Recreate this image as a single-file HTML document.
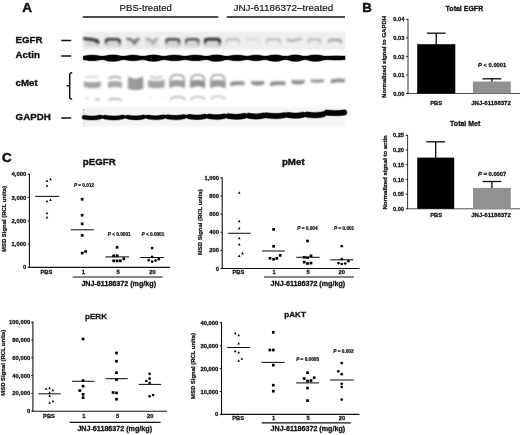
<!DOCTYPE html>
<html lang="en">
<head>
<meta charset="utf-8">
<title>Figure</title>
<style>
html,body{margin:0;padding:0;background:#fff;}
body{width:520px;height:435px;overflow:hidden;}
svg{display:block;}
svg text{font-family:"Liberation Sans",Arial,Helvetica,sans-serif;fill:#111;}
</style>
</head>
<body>
<svg width="520" height="435" viewBox="0 0 520 435">
<defs>
<filter id="b2" x="-5%" y="-30%" width="110%" height="160%"><feGaussianBlur stdDeviation="1.0"/></filter>
<filter id="b4" x="-5%" y="-30%" width="110%" height="160%"><feGaussianBlur stdDeviation="1.55"/></filter>
<filter id="b5" x="-5%" y="-30%" width="110%" height="160%"><feGaussianBlur stdDeviation="1.0"/></filter>
<filter id="b3" x="-5%" y="-30%" width="110%" height="160%"><feGaussianBlur stdDeviation="1.0"/></filter>
</defs>
<rect width="520" height="435" fill="#fff"/>
<text x="22.3" y="12.3" font-size="13.6" font-weight="bold" text-anchor="start" stroke="#111" stroke-width="0.488">A</text>
<text x="119.6" y="11.3" font-size="9.6" font-weight="normal" text-anchor="start" stroke="#111" stroke-width="0.15">PBS-treated</text>
<text x="233.5" y="11.3" font-size="9.9" font-weight="normal" text-anchor="start" stroke="#111" stroke-width="0.15">JNJ-61186372–treated</text>
<line x1="82.7" y1="17.0" x2="218.3" y2="17.0" stroke="#111" stroke-width="1.4"/>
<line x1="226.7" y1="17.0" x2="345" y2="17.0" stroke="#111" stroke-width="1.4"/>
<text x="15.6" y="43.0" font-size="9.7" font-weight="bold" text-anchor="start" stroke="#111" stroke-width="0.371">EGFR</text>
<text x="15.6" y="57.9" font-size="9.7" font-weight="bold" text-anchor="start" stroke="#111" stroke-width="0.371">Actin</text>
<text x="15.6" y="85.5" font-size="9.7" font-weight="bold" text-anchor="start" stroke="#111" stroke-width="0.371">cMet</text>
<text x="15.6" y="119.5" font-size="9.75" font-weight="bold" text-anchor="start" stroke="#111" stroke-width="0.372">GAPDH</text>
<line x1="61.2" y1="40.5" x2="71.2" y2="40.5" stroke="#111" stroke-width="1.5"/>
<line x1="61.2" y1="56.0" x2="71.2" y2="56.0" stroke="#111" stroke-width="1.5"/>
<line x1="61.2" y1="118.0" x2="71.2" y2="118.0" stroke="#111" stroke-width="1.5"/>
<path d="M72.2 72.9 Q69.7 72.6 69.7 74.8 V97.2 Q69.7 99.3 72.2 99.0 M69.7 85.7 H66.7" fill="none" stroke="#111" stroke-width="1.5"/>
<g filter="url(#b3)">
<rect x="82.8" y="31.4" width="262.4" height="18.4" fill="#eeeeee"/>
</g>
<g filter="url(#b4)">
<rect x="83.6" y="39.5" width="15.400000000000006" height="7.5" fill="#000" fill-opacity="0.1"/>
<rect x="105.0" y="39.5" width="15.599999999999994" height="7.5" fill="#000" fill-opacity="0.1"/>
<rect x="126.3" y="39.5" width="13.299999999999997" height="7.5" fill="#000" fill-opacity="0.06"/>
<rect x="145.4" y="39.5" width="12.799999999999983" height="7.5" fill="#000" fill-opacity="0.06"/>
<rect x="165.4" y="39.5" width="14.799999999999983" height="7.5" fill="#000" fill-opacity="0.1"/>
<rect x="185.0" y="39.5" width="14.400000000000006" height="7.5" fill="#000" fill-opacity="0.1"/>
<rect x="204.2" y="39.5" width="16.400000000000006" height="7.5" fill="#000" fill-opacity="0.1"/>
</g>
<g filter="url(#b5)" fill="none" stroke-linecap="round" stroke-linejoin="round">
<path d="M84.39999999999999 38.6 Q91.3 39.2 96.5 40.4 L98.0 42.4" stroke="#262626" stroke-width="2.9"/>
<path d="M106.0 43.8 L106.0 41.0 M119.6 41.0 L119.6 44.6" stroke="#303030" stroke-width="1.8199999999999998" stroke-opacity="0.6"/>
<path d="M106.0 40.8 Q106.2 39.2 109.0 39.2 H116.6 Q119.39999999999999 39.2 119.6 41.2" stroke="#303030" stroke-width="2.6"/>
<path d="M127.3 38.8 L131.95 40.0 L134.45 43.6 L136.45 39.8 L138.6 39.0" stroke="#747474" stroke-width="2.6"/>
<path d="M146.4 38.8 L150.8 40.0 L153.3 43.6 L155.3 39.8 L157.2 39.0" stroke="#a8a8a8" stroke-width="2.6"/>
<path d="M166.4 43.8 L166.4 41.0 M179.2 41.0 L179.2 44.6" stroke="#444" stroke-width="1.75" stroke-opacity="0.6"/>
<path d="M166.4 40.8 Q166.6 39.2 169.4 39.2 H176.2 Q179.0 39.2 179.2 41.2" stroke="#444" stroke-width="2.5"/>
<path d="M186.0 43.8 L186.0 41.0 M198.4 41.0 L198.4 44.6" stroke="#545454" stroke-width="1.75" stroke-opacity="0.6"/>
<path d="M186.0 40.8 Q186.2 39.2 189.0 39.2 H195.4 Q198.20000000000002 39.2 198.4 41.2" stroke="#545454" stroke-width="2.5"/>
<path d="M205.2 43.8 L205.2 41.0 M219.6 41.0 L219.6 44.6" stroke="#262626" stroke-width="1.9599999999999997" stroke-opacity="0.6"/>
<path d="M205.2 40.8 Q205.39999999999998 39.2 208.2 39.2 H216.6 Q219.4 39.2 219.6 41.2" stroke="#262626" stroke-width="2.8"/>
<path d="M226.4 43.8 L226.4 41.0 M238.8 41.0 L238.8 44.6" stroke="#c2c2c2" stroke-width="1.68" stroke-opacity="0.6"/>
<path d="M226.4 40.8 Q226.6 39.2 229.4 39.2 H235.8 Q238.60000000000002 39.2 238.8 41.2" stroke="#c2c2c2" stroke-width="2.4"/>
<path d="M246.6 43.8 L246.6 41.0 M259.0 41.0 L259.0 44.6" stroke="#dcdcdc" stroke-width="1.68" stroke-opacity="0.6"/>
<path d="M246.6 40.8 Q246.79999999999998 39.2 249.6 39.2 H256.0 Q258.8 39.2 259.0 41.2" stroke="#dcdcdc" stroke-width="2.4"/>
<path d="M267.0 43.8 L267.0 41.0 M280.0 41.0 L280.0 44.6" stroke="#bebebe" stroke-width="1.68" stroke-opacity="0.6"/>
<path d="M267.0 40.8 Q267.2 39.2 270.0 39.2 H277.0 Q279.8 39.2 280.0 41.2" stroke="#bebebe" stroke-width="2.4"/>
<path d="M287.5 39.6 L292.75 41.2 L296.25 39.6 L301.0 39.0" stroke="#b0b0b0" stroke-width="2.4"/>
<path d="M308.7 43.8 L308.7 41.0 M320.0 41.0 L320.0 44.6" stroke="#bcbcbc" stroke-width="1.68" stroke-opacity="0.6"/>
<path d="M308.7 40.8 Q308.9 39.2 311.7 39.2 H317.0 Q319.8 39.2 320.0 41.2" stroke="#bcbcbc" stroke-width="2.4"/>
<path d="M329.0 41.6 Q328.8 40.0 331.5 40.0 H338.5 Q341.2 40.0 341.0 42.2" stroke="#a0a0a0" stroke-width="2.4"/>
</g>
<g fill="#050505" stroke="#000" stroke-opacity="0.32" stroke-width="1.3">
<rect x="83.4" y="56.0" width="261.6" height="3.8"/>
<ellipse cx="92.2" cy="57.9" rx="8.999999999999996" ry="2.9"/>
<ellipse cx="112.75" cy="58.1" rx="9.95" ry="3.3"/>
<ellipse cx="133.0" cy="57.9" rx="8.2" ry="2.9"/>
<ellipse cx="153.5" cy="58.1" rx="9.7" ry="3.3"/>
<ellipse cx="174.5" cy="57.9" rx="9.7" ry="2.9"/>
<ellipse cx="195.5" cy="57.9" rx="9.7" ry="2.9"/>
<ellipse cx="216.5" cy="58.1" rx="9.7" ry="3.3"/>
<ellipse cx="237.0" cy="57.9" rx="9.2" ry="2.9"/>
<ellipse cx="256.0" cy="57.9" rx="8.2" ry="2.9"/>
<ellipse cx="275.0" cy="58.1" rx="9.2" ry="3.3"/>
<ellipse cx="295.5" cy="58.1" rx="8.7" ry="3.3"/>
<ellipse cx="315.5" cy="58.1" rx="9.7" ry="3.3"/>
<ellipse cx="336.25" cy="57.9" rx="8.45" ry="2.0"/>
</g>
<g filter="url(#b2)">
<path d="M83.8 81.2 Q92.3 83.2 100.8 81.2 L100.8 87.0 Q92.3 89.8 83.8 86.8 Z" fill="#a2a2a2"/>
<path d="M85.8 77.2 Q92.3 76.0 97.8 77.4" stroke="#c4c4c4" stroke-width="1.4" fill="none"/>
<path d="M108.0 82.0 Q115.0 80.2 122.0 82.0 L122.0 88.0 Q115.0 86.0 108.0 88.0 Z" fill="#a6a6a6"/>
<path d="M108.5 78.6 Q115.0 74.6 121.5 78.6" stroke="#a0a0a0" stroke-width="1.7" fill="none"/>
<path d="M128.2 76.0 Q135.6 82.0 143.0 76.0 L143.5 88.4 Q135.6 92.0 127.7 88.4 Z" fill="#999"/>
<path d="M148.0 79.8 Q156.3 82.4 164.6 79.8 L164.6 87.2 Q156.3 89.2 148.0 87.2 Z" fill="#a2a2a2"/>
<path d="M150.0 76.2 Q156.3 80.0 162.6 76.2" stroke="#b4b4b4" stroke-width="1.5" fill="none"/>
<path d="M170.29999999999998 87.8 L170.29999999999998 79.4 Q170.29999999999998 74.8 177.3 74.8 Q184.3 74.8 184.3 79.4 L184.3 87.8" stroke="#a4a4a4" stroke-width="1.7" fill="none"/>
<path d="M169.6 81.0 Q177.3 78.8 185.0 81.0 L185.0 88.0 L182.6 87.6 Q177.3 84.8 172.0 87.6 L169.6 88.0 Z" fill="#9c9c9c"/>
<path d="M191.1 87.8 L191.1 79.4 Q191.1 74.8 197.7 74.8 Q204.3 74.8 204.3 79.4 L204.3 87.8" stroke="#a4a4a4" stroke-width="1.7" fill="none"/>
<path d="M190.4 81.0 Q197.7 78.8 205.0 81.0 L205.0 88.0 L202.6 87.6 Q197.7 84.8 192.8 87.6 L190.4 88.0 Z" fill="#909090"/>
<path d="M211.1 87.8 L211.1 79.4 Q211.1 74.8 217.9 74.8 Q224.70000000000002 74.8 224.70000000000002 79.4 L224.70000000000002 87.8" stroke="#a4a4a4" stroke-width="1.7" fill="none"/>
<path d="M210.4 81.0 Q217.9 78.8 225.4 81.0 L225.4 88.0 L223.0 87.6 Q217.9 84.8 212.8 87.6 L210.4 88.0 Z" fill="#979797"/>
<path d="M230.0 86.2 L230.3 82.0 Q237.3 80.60000000000001 244.29999999999998 81.60000000000001 L244.6 85.4 Q237.3 84.2 230.0 86.2 Z" fill="#8c8c8c"/>
<path d="M251.0 80.8 Q257.7 81.8 264.4 80.8 L264.09999999999997 84.2 Q257.7 87.0 251.3 84.2 Z" fill="#8c8c8c"/>
<path d="M270.0 86.2 L270.3 82.0 Q277.8 80.60000000000001 285.3 81.60000000000001 L285.6 85.4 Q277.8 84.2 270.0 86.2 Z" fill="#8c8c8c"/>
<path d="M291.3 79.8 Q298.05 80.8 304.8 79.8 L304.5 83.2 Q298.05 86.0 291.6 83.2 Z" fill="#8c8c8c"/>
<path d="M310.6 79.3 Q317.3 80.0 324.0 78.89999999999999 L324.0 81.89999999999999 Q317.3 83.39999999999999 310.6 82.3 Z" fill="#969696"/>
<path d="M330.8 83.39999999999999 L331.1 79.19999999999999 Q337.9 77.8 344.7 78.8 L345.0 82.6 Q337.9 81.39999999999999 330.8 83.39999999999999 Z" fill="#8c8c8c"/>
<path d="M85.5 98.2 L88.5 98.2" stroke="#c8c8c8" stroke-width="1.5" fill="none"/>
<path d="M95.0 99.6 L100.0 99.6" stroke="#a0a0a0" stroke-width="1.5" fill="none"/>
<path d="M108.5 100.0 Q115.25 97.19999999999999 122.0 100.19999999999999" stroke="#acacac" stroke-width="1.6" fill="none"/>
<path d="M149.0 98.4 L150.5 98.4" stroke="#c8c8c8" stroke-width="1.5" fill="none"/>
<path d="M162.5 98.4 L164.0 98.4" stroke="#c8c8c8" stroke-width="1.5" fill="none"/>
<path d="M170.5 100.0 Q170.5 96.80000000000001 177.75 96.80000000000001 Q185.0 96.80000000000001 185.0 100.0" stroke="#acacac" stroke-width="1.4" fill="none"/>
<path d="M191.0 100.0 Q191.0 96.80000000000001 198.0 96.80000000000001 Q205.0 96.80000000000001 205.0 100.0" stroke="#b4b4b4" stroke-width="1.4" fill="none"/>
<path d="M211.0 99.6 Q211.0 96.4 218.0 96.4 Q225.0 96.4 225.0 99.6" stroke="#b4b4b4" stroke-width="1.4" fill="none"/>
</g>
<g filter="url(#b3)">
<rect x="82.8" y="107.0" width="262.6" height="19.6" fill="#f5f5f5"/>
<rect x="83.5" y="110.5" width="18" height="12" fill="#efefef"/>
</g>
<g fill="none" stroke="#000" stroke-opacity="0.3">
<path d="M84.10000000000001 117.3 Q93.55000000000001 118.8 100.0 117.1" stroke-width="5.4" stroke-linecap="round"/>
<path d="M105.2 117.26 Q115.3 118.76 122.39999999999999 117.06" stroke-width="5.4" stroke-linecap="round"/>
<path d="M128.4 117.17 Q137.3 118.67 143.20000000000002 116.97" stroke-width="5.4" stroke-linecap="round"/>
<path d="M148.39999999999998 117.04 Q157.39999999999998 118.54 163.4 116.84" stroke-width="5.4" stroke-linecap="round"/>
<path d="M167.89999999999998 116.86 Q177.35 118.36 183.8 116.66" stroke-width="5.68" stroke-linecap="round"/>
<path d="M189.1 116.64 Q198.45 118.14 204.8 116.44" stroke-width="5.96" stroke-linecap="round"/>
<path d="M209.2 116.38 Q218.2 117.88 224.20000000000002 116.18" stroke-width="6.24" stroke-linecap="round"/>
<path d="M228.5 116.09 Q237.95 117.59 244.4 115.89" stroke-width="6.52" stroke-linecap="round"/>
<path d="M248.7 115.76 Q257.45 117.26 263.2 115.56" stroke-width="6.8" stroke-linecap="round"/>
<path d="M266.59999999999997 115.39 Q277.0 116.89 284.40000000000003 115.19" stroke-width="6.8" stroke-linecap="round"/>
<path d="M288.2 115.0 Q296.9 116.5 302.6 114.8" stroke-width="6.8" stroke-linecap="round"/>
<path d="M307.0 114.56 Q316.4 116.06 322.8 114.36" stroke-width="6.8" stroke-linecap="round"/>
<path d="M326.59999999999997 112.7 Q336.9 113.7 344.2 112.5" stroke-width="6.7" stroke-linecap="round"/>
<path d="M99.7 116.98 L105.5 116.98" stroke-width="4.1" stroke-linecap="butt"/>
<path d="M122.1 116.92 L128.7 116.92" stroke-width="4.1" stroke-linecap="butt"/>
<path d="M142.9 116.8 L148.7 116.8" stroke-width="4.1" stroke-linecap="butt"/>
<path d="M163.1 116.65 L168.2 116.65" stroke-width="4.1" stroke-linecap="butt"/>
<path d="M183.5 116.45 L189.4 116.45" stroke-width="4.1" stroke-linecap="butt"/>
<path d="M204.5 116.21 L209.5 116.21" stroke-width="4.1" stroke-linecap="butt"/>
<path d="M223.9 115.93 L228.8 115.93" stroke-width="4.1" stroke-linecap="butt"/>
<path d="M244.1 115.62 L249.0 115.62" stroke-width="4.1" stroke-linecap="butt"/>
<path d="M262.9 115.28 L266.9 115.28" stroke-width="4.1" stroke-linecap="butt"/>
<path d="M284.1 114.89 L288.5 114.89" stroke-width="4.1" stroke-linecap="butt"/>
<path d="M302.3 114.48 L307.3 114.48" stroke-width="4.1" stroke-linecap="butt"/>
<path d="M322.5 113.33 L326.9 113.33" stroke-width="4.1" stroke-linecap="butt"/>
</g>
<g fill="none" stroke="#050505">
<path d="M84.10000000000001 117.3 Q93.55000000000001 118.8 100.0 117.1" stroke-width="4.1" stroke-linecap="round"/>
<path d="M105.2 117.26 Q115.3 118.76 122.39999999999999 117.06" stroke-width="4.1" stroke-linecap="round"/>
<path d="M128.4 117.17 Q137.3 118.67 143.20000000000002 116.97" stroke-width="4.1" stroke-linecap="round"/>
<path d="M148.39999999999998 117.04 Q157.39999999999998 118.54 163.4 116.84" stroke-width="4.1" stroke-linecap="round"/>
<path d="M167.89999999999998 116.86 Q177.35 118.36 183.8 116.66" stroke-width="4.38" stroke-linecap="round"/>
<path d="M189.1 116.64 Q198.45 118.14 204.8 116.44" stroke-width="4.66" stroke-linecap="round"/>
<path d="M209.2 116.38 Q218.2 117.88 224.20000000000002 116.18" stroke-width="4.94" stroke-linecap="round"/>
<path d="M228.5 116.09 Q237.95 117.59 244.4 115.89" stroke-width="5.22" stroke-linecap="round"/>
<path d="M248.7 115.76 Q257.45 117.26 263.2 115.56" stroke-width="5.5" stroke-linecap="round"/>
<path d="M266.59999999999997 115.39 Q277.0 116.89 284.40000000000003 115.19" stroke-width="5.5" stroke-linecap="round"/>
<path d="M288.2 115.0 Q296.9 116.5 302.6 114.8" stroke-width="5.5" stroke-linecap="round"/>
<path d="M307.0 114.56 Q316.4 116.06 322.8 114.36" stroke-width="5.5" stroke-linecap="round"/>
<path d="M326.59999999999997 112.7 Q336.9 113.7 344.2 112.5" stroke-width="5.4" stroke-linecap="round"/>
<path d="M99.7 116.98 L105.5 116.98" stroke-width="2.8" stroke-linecap="butt"/>
<path d="M122.1 116.92 L128.7 116.92" stroke-width="2.8" stroke-linecap="butt"/>
<path d="M142.9 116.8 L148.7 116.8" stroke-width="2.8" stroke-linecap="butt"/>
<path d="M163.1 116.65 L168.2 116.65" stroke-width="2.8" stroke-linecap="butt"/>
<path d="M183.5 116.45 L189.4 116.45" stroke-width="2.8" stroke-linecap="butt"/>
<path d="M204.5 116.21 L209.5 116.21" stroke-width="2.8" stroke-linecap="butt"/>
<path d="M223.9 115.93 L228.8 115.93" stroke-width="2.8" stroke-linecap="butt"/>
<path d="M244.1 115.62 L249.0 115.62" stroke-width="2.8" stroke-linecap="butt"/>
<path d="M262.9 115.28 L266.9 115.28" stroke-width="2.8" stroke-linecap="butt"/>
<path d="M284.1 114.89 L288.5 114.89" stroke-width="2.8" stroke-linecap="butt"/>
<path d="M302.3 114.48 L307.3 114.48" stroke-width="2.8" stroke-linecap="butt"/>
<path d="M322.5 113.33 L326.9 113.33" stroke-width="2.8" stroke-linecap="butt"/>
</g>
<g>
<rect x="83" y="109" width="1.2" height="1.6" fill="#999"/>
<rect x="83" y="112.6" width="1.2" height="1.2" fill="#b0b0b0"/>
<rect x="83" y="122.6" width="1.2" height="1.2" fill="#bbb"/>
<rect x="83" y="125.6" width="1.2" height="1.0" fill="#ccc"/>
</g>
<text x="362.3" y="12.0" font-size="13.2" font-weight="bold" text-anchor="start" stroke="#111" stroke-width="0.476">B</text>
<text x="464.4" y="10.8" font-size="7.0" font-weight="bold" text-anchor="middle" stroke="#111" stroke-width="0.29">Total EGFR</text>
<text x="386.0" y="56.9" font-size="6.0" font-weight="bold" text-anchor="middle" stroke="#111" stroke-width="0.26" transform="rotate(-90 386.0 56.9)">Normalized signal to GAPDH</text>
<line x1="408.0" y1="18.8" x2="408.0" y2="93.9" stroke="#2a2a2a" stroke-width="0.95"/>
<line x1="407.5" y1="93.5" x2="520" y2="93.5" stroke="#2a2a2a" stroke-width="0.85"/>
<line x1="406.1" y1="19.3" x2="408.0" y2="19.3" stroke="#111" stroke-width="0.9"/>
<text x="404.4" y="21.400000000000002" font-size="5.7" font-weight="bold" text-anchor="end" stroke="#111" stroke-width="0.251">0.04</text>
<line x1="406.1" y1="37.85" x2="408.0" y2="37.85" stroke="#111" stroke-width="0.9"/>
<text x="404.4" y="39.95" font-size="5.7" font-weight="bold" text-anchor="end" stroke="#111" stroke-width="0.251">0.03</text>
<line x1="406.1" y1="56.4" x2="408.0" y2="56.4" stroke="#111" stroke-width="0.9"/>
<text x="404.4" y="58.5" font-size="5.7" font-weight="bold" text-anchor="end" stroke="#111" stroke-width="0.251">0.02</text>
<line x1="406.1" y1="74.95" x2="408.0" y2="74.95" stroke="#111" stroke-width="0.9"/>
<text x="404.4" y="77.05" font-size="5.7" font-weight="bold" text-anchor="end" stroke="#111" stroke-width="0.251">0.01</text>
<line x1="406.1" y1="93.5" x2="408.0" y2="93.5" stroke="#111" stroke-width="0.9"/>
<text x="404.4" y="95.6" font-size="5.7" font-weight="bold" text-anchor="end" stroke="#111" stroke-width="0.251">0.00</text>
<line x1="436.25" y1="33.2" x2="436.25" y2="45.2" stroke="#111" stroke-width="1.35"/>
<line x1="426.85" y1="33.2" x2="445.65" y2="33.2" stroke="#111" stroke-width="1.35"/>
<rect x="417.2" y="44.2" width="38.10000000000002" height="49.3" fill="#000"/>
<line x1="491.85" y1="78.8" x2="491.85" y2="82.5" stroke="#111" stroke-width="1.35"/>
<line x1="482.45000000000005" y1="78.8" x2="501.25" y2="78.8" stroke="#111" stroke-width="1.35"/>
<rect x="472.9" y="81.5" width="37.900000000000034" height="12.0" fill="#919191"/>
<text x="492.2" y="67.3" font-size="5.8" font-weight="bold" text-anchor="middle" stroke="#111" stroke-width="0.254"><tspan font-style="italic">P</tspan> &lt; 0.0001</text>
<text x="436.2" y="105.0" font-size="5.8" font-weight="bold" text-anchor="middle" stroke="#111" stroke-width="0.254">PBS</text>
<text x="491.0" y="105.0" font-size="6.05" font-weight="bold" text-anchor="middle" stroke="#111" stroke-width="0.262">JNJ-61186372</text>
<text x="465.2" y="126.3" font-size="7.0" font-weight="bold" text-anchor="middle" stroke="#111" stroke-width="0.29">Total Met</text>
<text x="386.7" y="172.4" font-size="6.0" font-weight="bold" text-anchor="middle" stroke="#111" stroke-width="0.26" transform="rotate(-90 386.7 172.4)">Normalized signal to actin</text>
<line x1="407.6" y1="134.8" x2="407.6" y2="209.20000000000002" stroke="#2a2a2a" stroke-width="0.95"/>
<line x1="407.1" y1="208.8" x2="520" y2="208.8" stroke="#2a2a2a" stroke-width="0.85"/>
<line x1="405.70000000000005" y1="135.3" x2="407.6" y2="135.3" stroke="#111" stroke-width="0.9"/>
<text x="404.0" y="137.4" font-size="5.7" font-weight="bold" text-anchor="end" stroke="#111" stroke-width="0.251">0.25</text>
<line x1="405.70000000000005" y1="150.0" x2="407.6" y2="150.0" stroke="#111" stroke-width="0.9"/>
<text x="404.0" y="152.1" font-size="5.7" font-weight="bold" text-anchor="end" stroke="#111" stroke-width="0.251">0.20</text>
<line x1="405.70000000000005" y1="164.7" x2="407.6" y2="164.7" stroke="#111" stroke-width="0.9"/>
<text x="404.0" y="166.79999999999998" font-size="5.7" font-weight="bold" text-anchor="end" stroke="#111" stroke-width="0.251">0.15</text>
<line x1="405.70000000000005" y1="179.4" x2="407.6" y2="179.4" stroke="#111" stroke-width="0.9"/>
<text x="404.0" y="181.5" font-size="5.7" font-weight="bold" text-anchor="end" stroke="#111" stroke-width="0.251">0.10</text>
<line x1="405.70000000000005" y1="194.1" x2="407.6" y2="194.1" stroke="#111" stroke-width="0.9"/>
<text x="404.0" y="196.2" font-size="5.7" font-weight="bold" text-anchor="end" stroke="#111" stroke-width="0.251">0.05</text>
<line x1="405.70000000000005" y1="208.8" x2="407.6" y2="208.8" stroke="#111" stroke-width="0.9"/>
<text x="404.0" y="210.9" font-size="5.7" font-weight="bold" text-anchor="end" stroke="#111" stroke-width="0.251">0.00</text>
<line x1="435.7" y1="141.8" x2="435.7" y2="158.6" stroke="#111" stroke-width="1.35"/>
<line x1="426.3" y1="141.8" x2="445.09999999999997" y2="141.8" stroke="#111" stroke-width="1.35"/>
<rect x="417.2" y="157.6" width="37.0" height="51.20000000000002" fill="#000"/>
<line x1="491.9" y1="181.5" x2="491.9" y2="188.9" stroke="#111" stroke-width="1.35"/>
<line x1="482.5" y1="181.5" x2="501.29999999999995" y2="181.5" stroke="#111" stroke-width="1.35"/>
<rect x="473.0" y="187.9" width="37.80000000000001" height="20.900000000000006" fill="#919191"/>
<text x="492.2" y="175.8" font-size="5.8" font-weight="bold" text-anchor="middle" stroke="#111" stroke-width="0.254"><tspan font-style="italic">P</tspan> = 0.0007</text>
<text x="436.2" y="216.6" font-size="5.8" font-weight="bold" text-anchor="middle" stroke="#111" stroke-width="0.254">PBS</text>
<text x="491.0" y="216.6" font-size="6.05" font-weight="bold" text-anchor="middle" stroke="#111" stroke-width="0.262">JNJ-61186372</text>
<text x="1.9" y="161.7" font-size="13.4" font-weight="bold" text-anchor="start" stroke="#111" stroke-width="0.482">C</text>
<text x="82.7" y="164.7" font-size="9.75" font-weight="bold" text-anchor="start" stroke="#111" stroke-width="0.372">pEGFR</text>
<text x="5.9" y="219.0" font-size="5.92" font-weight="bold" text-anchor="middle" stroke="#111" stroke-width="0.258" transform="rotate(-90 5.9 219.0)">MSD Signal (RCL units)</text>
<line x1="29.4" y1="173.70000000000002" x2="29.4" y2="268.0" stroke="#111" stroke-width="1.1"/>
<line x1="28.799999999999997" y1="267.4" x2="170.0" y2="267.4" stroke="#111" stroke-width="1.15"/>
<line x1="27.7" y1="174.3" x2="29.4" y2="174.3" stroke="#111" stroke-width="1.0"/>
<text x="26.2" y="176.35000000000002" font-size="5.85" font-weight="bold" text-anchor="end" stroke="#111" stroke-width="0.256">4,000</text>
<line x1="27.7" y1="197.57" x2="29.4" y2="197.57" stroke="#111" stroke-width="1.0"/>
<text x="26.2" y="199.62" font-size="5.85" font-weight="bold" text-anchor="end" stroke="#111" stroke-width="0.256">3,000</text>
<line x1="27.7" y1="220.85" x2="29.4" y2="220.85" stroke="#111" stroke-width="1.0"/>
<text x="26.2" y="222.9" font-size="5.85" font-weight="bold" text-anchor="end" stroke="#111" stroke-width="0.256">2,000</text>
<line x1="27.7" y1="244.12" x2="29.4" y2="244.12" stroke="#111" stroke-width="1.0"/>
<text x="26.2" y="246.17000000000002" font-size="5.85" font-weight="bold" text-anchor="end" stroke="#111" stroke-width="0.256">1,000</text>
<line x1="27.7" y1="267.4" x2="29.4" y2="267.4" stroke="#111" stroke-width="1.0"/>
<text x="26.2" y="269.45" font-size="5.85" font-weight="bold" text-anchor="end" stroke="#111" stroke-width="0.256">0</text>
<line x1="35.3" y1="196.4" x2="59.2" y2="196.4" stroke="#111" stroke-width="1.05"/>
<path d="M45.7 181.95000000000002 L48.3 181.95000000000002 L47.0 179.45000000000002 Z" fill="#000"/>
<path d="M49.2 180.25 L51.8 180.25 L50.5 177.75 Z" fill="#000"/>
<path d="M45.7 186.85 L48.3 186.85 L47.0 184.35 Z" fill="#000"/>
<path d="M45.7 202.35 L48.3 202.35 L47.0 199.85 Z" fill="#000"/>
<path d="M49.2 201.05 L51.8 201.05 L50.5 198.55 Z" fill="#000"/>
<path d="M45.7 214.35 L48.3 214.35 L47.0 211.85 Z" fill="#000"/>
<path d="M45.7 218.55 L48.3 218.55 L47.0 216.05 Z" fill="#000"/>
<line x1="70.8" y1="229.8" x2="93.8" y2="229.8" stroke="#111" stroke-width="1.05"/>
<rect x="80.85000000000001" y="197.85" width="2.7" height="2.7" fill="#000"/>
<rect x="80.85000000000001" y="213.85" width="2.7" height="2.7" fill="#000"/>
<rect x="80.85000000000001" y="222.45000000000002" width="2.7" height="2.7" fill="#000"/>
<rect x="80.85000000000001" y="234.05" width="2.7" height="2.7" fill="#000"/>
<rect x="80.85000000000001" y="251.75" width="2.7" height="2.7" fill="#000"/>
<rect x="84.25" y="250.15" width="2.7" height="2.7" fill="#000"/>
<line x1="105.4" y1="256.9" x2="129.0" y2="256.9" stroke="#111" stroke-width="1.05"/>
<rect x="115.75" y="245.95000000000002" width="2.7" height="2.7" fill="#000"/>
<rect x="112.35000000000001" y="254.45000000000002" width="2.7" height="2.7" fill="#000"/>
<rect x="115.75" y="254.45000000000002" width="2.7" height="2.7" fill="#000"/>
<rect x="112.35000000000001" y="259.45" width="2.7" height="2.7" fill="#000"/>
<rect x="115.75" y="259.45" width="2.7" height="2.7" fill="#000"/>
<rect x="119.05000000000001" y="259.45" width="2.7" height="2.7" fill="#000"/>
<rect x="122.45" y="257.45" width="2.7" height="2.7" fill="#000"/>
<line x1="140.2" y1="257.5" x2="164.0" y2="257.5" stroke="#111" stroke-width="1.05"/>
<circle cx="152.1" cy="248.1" r="1.35" fill="#000"/>
<circle cx="152.1" cy="256.9" r="1.35" fill="#000"/>
<circle cx="148.7" cy="260.2" r="1.35" fill="#000"/>
<circle cx="152.1" cy="261.7" r="1.35" fill="#000"/>
<circle cx="155.6" cy="260.6" r="1.35" fill="#000"/>
<circle cx="158.8" cy="259.2" r="1.35" fill="#000"/>
<text x="46.4" y="274.3" font-size="5.8" font-weight="bold" text-anchor="middle" stroke="#111" stroke-width="0.254">PBS</text>
<text x="83.4" y="274.3" font-size="5.8" font-weight="bold" text-anchor="middle" stroke="#111" stroke-width="0.254">1</text>
<text x="118.0" y="274.3" font-size="5.8" font-weight="bold" text-anchor="middle" stroke="#111" stroke-width="0.254">5</text>
<text x="152.6" y="274.3" font-size="5.8" font-weight="bold" text-anchor="middle" stroke="#111" stroke-width="0.254">20</text>
<line x1="72.7" y1="277.0" x2="162.7" y2="277.0" stroke="#111" stroke-width="1.2"/>
<text x="81.4" y="286.3" font-size="7.15" font-weight="bold" text-anchor="start" stroke="#111" stroke-width="0.294">JNJ-61186372 (mg/kg)</text>
<text x="84.0" y="187.4" font-size="4.7" font-weight="bold" text-anchor="middle" stroke="#111" stroke-width="0.221"><tspan font-style="italic">P</tspan> = 0.012</text>
<text x="119.2" y="236.20000000000002" font-size="4.7" font-weight="bold" text-anchor="middle" stroke="#111" stroke-width="0.221"><tspan font-style="italic">P</tspan> &lt; 0.0001</text>
<text x="152.9" y="236.20000000000002" font-size="4.7" font-weight="bold" text-anchor="middle" stroke="#111" stroke-width="0.221"><tspan font-style="italic">P</tspan> &lt; 0.0001</text>
<text x="281.9" y="164.5" font-size="9.75" font-weight="bold" text-anchor="start" stroke="#111" stroke-width="0.372">pMet</text>
<text x="202.4" y="222.2" font-size="5.92" font-weight="bold" text-anchor="middle" stroke="#111" stroke-width="0.258" transform="rotate(-90 202.4 222.2)">MSD Signal (RCL units)</text>
<line x1="222.2" y1="177.3" x2="222.2" y2="269.1" stroke="#111" stroke-width="1.1"/>
<line x1="221.6" y1="268.5" x2="359.4" y2="268.5" stroke="#111" stroke-width="1.15"/>
<line x1="220.5" y1="177.9" x2="222.2" y2="177.9" stroke="#111" stroke-width="1.0"/>
<text x="219.0" y="179.95000000000002" font-size="5.85" font-weight="bold" text-anchor="end" stroke="#111" stroke-width="0.256">1,000</text>
<line x1="220.5" y1="196.02" x2="222.2" y2="196.02" stroke="#111" stroke-width="1.0"/>
<text x="219.0" y="198.07000000000002" font-size="5.85" font-weight="bold" text-anchor="end" stroke="#111" stroke-width="0.256">800</text>
<line x1="220.5" y1="214.14" x2="222.2" y2="214.14" stroke="#111" stroke-width="1.0"/>
<text x="219.0" y="216.19" font-size="5.85" font-weight="bold" text-anchor="end" stroke="#111" stroke-width="0.256">600</text>
<line x1="220.5" y1="232.26" x2="222.2" y2="232.26" stroke="#111" stroke-width="1.0"/>
<text x="219.0" y="234.31" font-size="5.85" font-weight="bold" text-anchor="end" stroke="#111" stroke-width="0.256">400</text>
<line x1="220.5" y1="250.38" x2="222.2" y2="250.38" stroke="#111" stroke-width="1.0"/>
<text x="219.0" y="252.43" font-size="5.85" font-weight="bold" text-anchor="end" stroke="#111" stroke-width="0.256">200</text>
<line x1="220.5" y1="268.5" x2="222.2" y2="268.5" stroke="#111" stroke-width="1.0"/>
<text x="219.0" y="270.55" font-size="5.85" font-weight="bold" text-anchor="end" stroke="#111" stroke-width="0.256">0</text>
<line x1="228.1" y1="233.3" x2="250.8" y2="233.3" stroke="#111" stroke-width="1.05"/>
<path d="M237.89999999999998 193.85 L240.5 193.85 L239.2 191.35 Z" fill="#000"/>
<path d="M237.89999999999998 222.35 L240.5 222.35 L239.2 219.85 Z" fill="#000"/>
<path d="M237.89999999999998 229.25 L240.5 229.25 L239.2 226.75 Z" fill="#000"/>
<path d="M237.89999999999998 239.25 L240.5 239.25 L239.2 236.75 Z" fill="#000"/>
<path d="M237.89999999999998 245.55 L240.5 245.55 L239.2 243.05 Z" fill="#000"/>
<path d="M241.2 254.25 L243.8 254.25 L242.5 251.75 Z" fill="#000"/>
<path d="M237.89999999999998 256.95 L240.5 256.95 L239.2 254.45000000000002 Z" fill="#000"/>
<line x1="262.0" y1="251.0" x2="285.0" y2="251.0" stroke="#111" stroke-width="1.05"/>
<rect x="272.25" y="228.05" width="2.7" height="2.7" fill="#000"/>
<rect x="272.25" y="244.95000000000002" width="2.7" height="2.7" fill="#000"/>
<rect x="268.65" y="256.95" width="2.7" height="2.7" fill="#000"/>
<rect x="272.25" y="257.84999999999997" width="2.7" height="2.7" fill="#000"/>
<rect x="275.54999999999995" y="257.04999999999995" width="2.7" height="2.7" fill="#000"/>
<rect x="278.84999999999997" y="254.05" width="2.7" height="2.7" fill="#000"/>
<line x1="296.2" y1="257.3" x2="319.6" y2="257.3" stroke="#111" stroke-width="1.05"/>
<rect x="306.15" y="239.65" width="2.7" height="2.7" fill="#000"/>
<rect x="302.84999999999997" y="255.95000000000002" width="2.7" height="2.7" fill="#000"/>
<rect x="309.65" y="254.45000000000002" width="2.7" height="2.7" fill="#000"/>
<rect x="302.84999999999997" y="260.75" width="2.7" height="2.7" fill="#000"/>
<rect x="306.15" y="262.15" width="2.7" height="2.7" fill="#000"/>
<rect x="309.65" y="261.75" width="2.7" height="2.7" fill="#000"/>
<rect x="306.15" y="256.34999999999997" width="2.7" height="2.7" fill="#000"/>
<line x1="330.2" y1="259.8" x2="353.3" y2="259.8" stroke="#111" stroke-width="1.05"/>
<circle cx="341.7" cy="246.2" r="1.35" fill="#000"/>
<circle cx="341.7" cy="259.2" r="1.35" fill="#000"/>
<circle cx="338.5" cy="263.1" r="1.35" fill="#000"/>
<circle cx="341.7" cy="264.0" r="1.35" fill="#000"/>
<circle cx="345.2" cy="263.5" r="1.35" fill="#000"/>
<circle cx="348.5" cy="261.2" r="1.35" fill="#000"/>
<text x="238.4" y="274.3" font-size="5.8" font-weight="bold" text-anchor="middle" stroke="#111" stroke-width="0.254">PBS</text>
<text x="274.2" y="274.3" font-size="5.8" font-weight="bold" text-anchor="middle" stroke="#111" stroke-width="0.254">1</text>
<text x="308.0" y="274.3" font-size="5.8" font-weight="bold" text-anchor="middle" stroke="#111" stroke-width="0.254">5</text>
<text x="341.8" y="274.3" font-size="5.8" font-weight="bold" text-anchor="middle" stroke="#111" stroke-width="0.254">20</text>
<line x1="264.0" y1="277.0" x2="354.0" y2="277.0" stroke="#111" stroke-width="1.2"/>
<text x="270.5" y="286.3" font-size="7.15" font-weight="bold" text-anchor="start" stroke="#111" stroke-width="0.294">JNJ-61186372 (mg/kg)</text>
<text x="307.4" y="230.0" font-size="4.7" font-weight="bold" text-anchor="middle" stroke="#111" stroke-width="0.221"><tspan font-style="italic">P</tspan> = 0.004</text>
<text x="344.1" y="230.4" font-size="4.7" font-weight="bold" text-anchor="middle" stroke="#111" stroke-width="0.221"><tspan font-style="italic">P</tspan> = 0.001</text>
<text x="85.0" y="319.3" font-size="8.1" font-weight="bold" text-anchor="start" stroke="#111" stroke-width="0.323">pERK</text>
<text x="5.3" y="362.8" font-size="5.92" font-weight="bold" text-anchor="middle" stroke="#111" stroke-width="0.258" transform="rotate(-90 5.3 362.8)">MSD Signal (RCL units)</text>
<line x1="32.9" y1="321.59999999999997" x2="32.9" y2="411.8" stroke="#111" stroke-width="1.1"/>
<line x1="32.3" y1="411.2" x2="167.0" y2="411.2" stroke="#111" stroke-width="1.15"/>
<line x1="31.2" y1="322.2" x2="32.9" y2="322.2" stroke="#111" stroke-width="1.0"/>
<text x="30.2" y="324.25" font-size="5.85" font-weight="bold" text-anchor="end" stroke="#111" stroke-width="0.256">100,000</text>
<line x1="31.2" y1="340.0" x2="32.9" y2="340.0" stroke="#111" stroke-width="1.0"/>
<text x="30.2" y="342.05" font-size="5.85" font-weight="bold" text-anchor="end" stroke="#111" stroke-width="0.256">80,000</text>
<line x1="31.2" y1="357.8" x2="32.9" y2="357.8" stroke="#111" stroke-width="1.0"/>
<text x="30.2" y="359.85" font-size="5.85" font-weight="bold" text-anchor="end" stroke="#111" stroke-width="0.256">60,000</text>
<line x1="31.2" y1="375.6" x2="32.9" y2="375.6" stroke="#111" stroke-width="1.0"/>
<text x="30.2" y="377.65000000000003" font-size="5.85" font-weight="bold" text-anchor="end" stroke="#111" stroke-width="0.256">40,000</text>
<line x1="31.2" y1="393.4" x2="32.9" y2="393.4" stroke="#111" stroke-width="1.0"/>
<text x="30.2" y="395.45" font-size="5.85" font-weight="bold" text-anchor="end" stroke="#111" stroke-width="0.256">20,000</text>
<line x1="31.2" y1="411.2" x2="32.9" y2="411.2" stroke="#111" stroke-width="1.0"/>
<text x="30.2" y="413.25" font-size="5.85" font-weight="bold" text-anchor="end" stroke="#111" stroke-width="0.256">0</text>
<line x1="38.5" y1="393.8" x2="60.6" y2="393.8" stroke="#111" stroke-width="1.05"/>
<path d="M44.900000000000006 389.84999999999997 L47.5 389.84999999999997 L46.2 387.34999999999997 Z" fill="#000"/>
<path d="M48.300000000000004 389.25 L50.9 389.25 L49.6 386.75 Z" fill="#000"/>
<path d="M51.6 391.15 L54.199999999999996 391.15 L52.9 388.65 Z" fill="#000"/>
<path d="M48.300000000000004 393.65 L50.9 393.65 L49.6 391.15 Z" fill="#000"/>
<path d="M48.300000000000004 396.95 L50.9 396.95 L49.6 394.45 Z" fill="#000"/>
<path d="M51.6 402.34999999999997 L54.199999999999996 402.34999999999997 L52.9 399.84999999999997 Z" fill="#000"/>
<path d="M48.300000000000004 403.84999999999997 L50.9 403.84999999999997 L49.6 401.34999999999997 Z" fill="#000"/>
<line x1="72.1" y1="381.3" x2="94.6" y2="381.3" stroke="#111" stroke-width="1.05"/>
<rect x="81.75" y="337.65" width="2.7" height="2.7" fill="#000"/>
<rect x="81.75" y="379.25" width="2.7" height="2.7" fill="#000"/>
<rect x="81.75" y="384.84999999999997" width="2.7" height="2.7" fill="#000"/>
<rect x="78.45" y="389.25" width="2.7" height="2.7" fill="#000"/>
<rect x="81.75" y="393.04999999999995" width="2.7" height="2.7" fill="#000"/>
<rect x="81.75" y="396.34999999999997" width="2.7" height="2.7" fill="#000"/>
<line x1="105.4" y1="378.7" x2="127.7" y2="378.7" stroke="#111" stroke-width="1.05"/>
<rect x="115.15" y="351.65" width="2.7" height="2.7" fill="#000"/>
<rect x="115.15" y="359.84999999999997" width="2.7" height="2.7" fill="#000"/>
<rect x="115.15" y="371.34999999999997" width="2.7" height="2.7" fill="#000"/>
<rect x="115.15" y="378.25" width="2.7" height="2.7" fill="#000"/>
<rect x="111.75" y="391.15" width="2.7" height="2.7" fill="#000"/>
<rect x="115.15" y="391.54999999999995" width="2.7" height="2.7" fill="#000"/>
<rect x="115.15" y="397.84999999999997" width="2.7" height="2.7" fill="#000"/>
<line x1="138.7" y1="384.4" x2="161.2" y2="384.4" stroke="#111" stroke-width="1.05"/>
<circle cx="149.6" cy="373.8" r="1.35" fill="#000"/>
<circle cx="149.6" cy="378.7" r="1.35" fill="#000"/>
<circle cx="146.3" cy="381.0" r="1.35" fill="#000"/>
<circle cx="149.6" cy="382.9" r="1.35" fill="#000"/>
<circle cx="149.6" cy="396.3" r="1.35" fill="#000"/>
<circle cx="153.1" cy="395.0" r="1.35" fill="#000"/>
<text x="49.0" y="417.8" font-size="5.8" font-weight="bold" text-anchor="middle" stroke="#111" stroke-width="0.254">PBS</text>
<text x="83.8" y="417.8" font-size="5.8" font-weight="bold" text-anchor="middle" stroke="#111" stroke-width="0.254">1</text>
<text x="117.5" y="417.8" font-size="5.8" font-weight="bold" text-anchor="middle" stroke="#111" stroke-width="0.254">5</text>
<text x="150.2" y="417.8" font-size="5.8" font-weight="bold" text-anchor="middle" stroke="#111" stroke-width="0.254">20</text>
<line x1="69.6" y1="422.3" x2="160.6" y2="422.3" stroke="#111" stroke-width="1.2"/>
<text x="77.4" y="431.0" font-size="7.15" font-weight="bold" text-anchor="start" stroke="#111" stroke-width="0.294">JNJ-61186372 (mg/kg)</text>
<text x="284.3" y="317.3" font-size="8.1" font-weight="bold" text-anchor="start" stroke="#111" stroke-width="0.323">pAKT</text>
<text x="195.2" y="366.0" font-size="5.92" font-weight="bold" text-anchor="middle" stroke="#111" stroke-width="0.258" transform="rotate(-90 195.2 366.0)">MSD Signal (RCL units)</text>
<line x1="221.5" y1="322.09999999999997" x2="221.5" y2="415.0" stroke="#111" stroke-width="1.1"/>
<line x1="220.9" y1="414.4" x2="359.4" y2="414.4" stroke="#111" stroke-width="1.15"/>
<line x1="219.8" y1="322.7" x2="221.5" y2="322.7" stroke="#111" stroke-width="1.0"/>
<text x="218.3" y="324.75" font-size="5.85" font-weight="bold" text-anchor="end" stroke="#111" stroke-width="0.256">40,000</text>
<line x1="219.8" y1="345.62" x2="221.5" y2="345.62" stroke="#111" stroke-width="1.0"/>
<text x="218.3" y="347.67" font-size="5.85" font-weight="bold" text-anchor="end" stroke="#111" stroke-width="0.256">30,000</text>
<line x1="219.8" y1="368.55" x2="221.5" y2="368.55" stroke="#111" stroke-width="1.0"/>
<text x="218.3" y="370.6" font-size="5.85" font-weight="bold" text-anchor="end" stroke="#111" stroke-width="0.256">20,000</text>
<line x1="219.8" y1="391.47" x2="221.5" y2="391.47" stroke="#111" stroke-width="1.0"/>
<text x="218.3" y="393.52000000000004" font-size="5.85" font-weight="bold" text-anchor="end" stroke="#111" stroke-width="0.256">10,000</text>
<line x1="219.8" y1="414.4" x2="221.5" y2="414.4" stroke="#111" stroke-width="1.0"/>
<text x="218.3" y="416.45" font-size="5.85" font-weight="bold" text-anchor="end" stroke="#111" stroke-width="0.256">0</text>
<line x1="227.1" y1="347.5" x2="250.2" y2="347.5" stroke="#111" stroke-width="1.05"/>
<path d="M233.89999999999998 334.25 L236.5 334.25 L235.2 331.75 Z" fill="#000"/>
<path d="M237.39999999999998 336.15 L240.0 336.15 L238.7 333.65 Z" fill="#000"/>
<path d="M237.39999999999998 344.45 L240.0 344.45 L238.7 341.95 Z" fill="#000"/>
<path d="M233.89999999999998 352.15 L236.5 352.15 L235.2 349.65 Z" fill="#000"/>
<path d="M237.39999999999998 353.45 L240.0 353.45 L238.7 350.95 Z" fill="#000"/>
<path d="M237.39999999999998 361.75 L240.0 361.75 L238.7 359.25 Z" fill="#000"/>
<path d="M240.6 359.84999999999997 L243.20000000000002 359.84999999999997 L241.9 357.34999999999997 Z" fill="#000"/>
<line x1="261.4" y1="362.4" x2="284.6" y2="362.4" stroke="#111" stroke-width="1.05"/>
<rect x="271.95" y="330.95" width="2.7" height="2.7" fill="#000"/>
<rect x="268.45" y="348.65" width="2.7" height="2.7" fill="#000"/>
<rect x="271.95" y="348.65" width="2.7" height="2.7" fill="#000"/>
<rect x="271.95" y="363.84999999999997" width="2.7" height="2.7" fill="#000"/>
<rect x="271.95" y="383.84999999999997" width="2.7" height="2.7" fill="#000"/>
<rect x="271.95" y="389.84999999999997" width="2.7" height="2.7" fill="#000"/>
<line x1="296.2" y1="382.9" x2="319.2" y2="382.9" stroke="#111" stroke-width="1.05"/>
<rect x="306.15" y="371.34999999999997" width="2.7" height="2.7" fill="#000"/>
<rect x="302.84999999999997" y="377.15" width="2.7" height="2.7" fill="#000"/>
<rect x="312.84999999999997" y="376.34999999999997" width="2.7" height="2.7" fill="#000"/>
<rect x="306.15" y="379.65" width="2.7" height="2.7" fill="#000"/>
<rect x="309.65" y="379.25" width="2.7" height="2.7" fill="#000"/>
<rect x="306.15" y="386.75" width="2.7" height="2.7" fill="#000"/>
<rect x="306.15" y="399.25" width="2.7" height="2.7" fill="#000"/>
<line x1="330.2" y1="380.0" x2="353.7" y2="380.0" stroke="#111" stroke-width="1.05"/>
<circle cx="341.7" cy="363.1" r="1.35" fill="#000"/>
<circle cx="338.3" cy="371.3" r="1.35" fill="#000"/>
<circle cx="341.7" cy="374.2" r="1.35" fill="#000"/>
<circle cx="341.7" cy="383.8" r="1.35" fill="#000"/>
<circle cx="341.7" cy="387.1" r="1.35" fill="#000"/>
<circle cx="341.7" cy="399.6" r="1.35" fill="#000"/>
<text x="238.2" y="420.3" font-size="5.8" font-weight="bold" text-anchor="middle" stroke="#111" stroke-width="0.254">PBS</text>
<text x="273.6" y="420.3" font-size="5.8" font-weight="bold" text-anchor="middle" stroke="#111" stroke-width="0.254">1</text>
<text x="308.0" y="420.3" font-size="5.8" font-weight="bold" text-anchor="middle" stroke="#111" stroke-width="0.254">5</text>
<text x="342.0" y="420.3" font-size="5.8" font-weight="bold" text-anchor="middle" stroke="#111" stroke-width="0.254">20</text>
<line x1="261.7" y1="422.9" x2="350.8" y2="422.9" stroke="#111" stroke-width="1.2"/>
<text x="270.5" y="431.2" font-size="7.15" font-weight="bold" text-anchor="start" stroke="#111" stroke-width="0.294">JNJ-61186372 (mg/kg)</text>
<text x="307.6" y="360.59999999999997" font-size="4.7" font-weight="bold" text-anchor="middle" stroke="#111" stroke-width="0.221"><tspan font-style="italic">P</tspan> = 0.0005</text>
<text x="343.4" y="353.2" font-size="4.7" font-weight="bold" text-anchor="middle" stroke="#111" stroke-width="0.221"><tspan font-style="italic">P</tspan> = 0.002</text>
</svg>
</body>
</html>
